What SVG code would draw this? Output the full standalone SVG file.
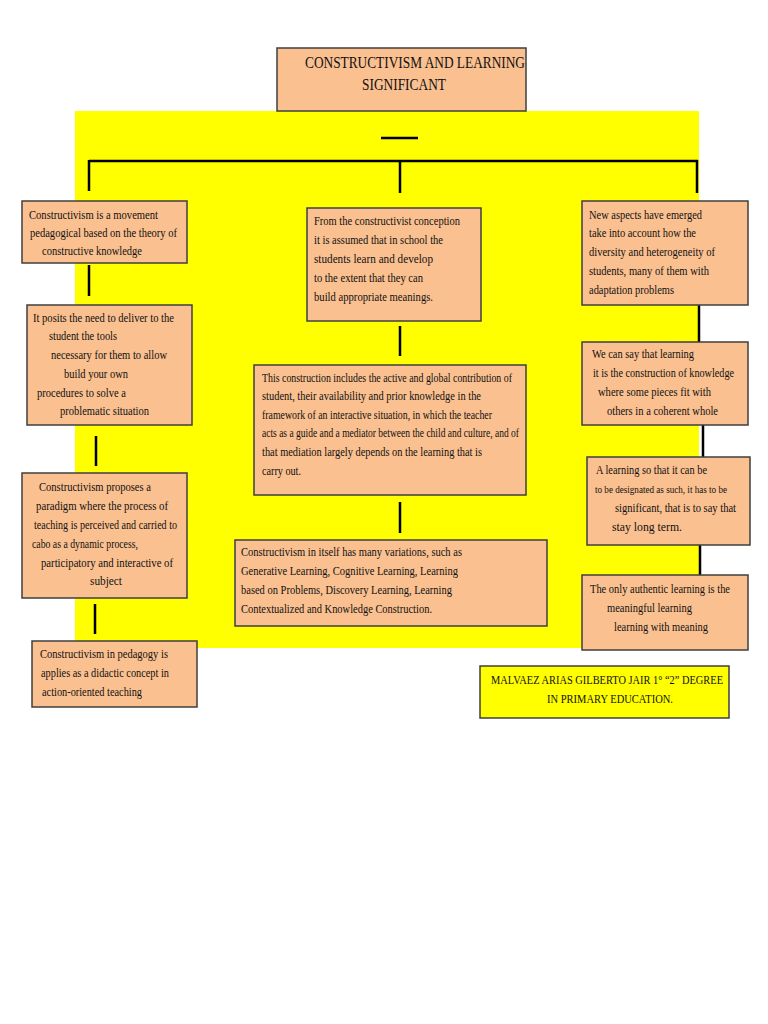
<svg xmlns="http://www.w3.org/2000/svg" width="768" height="1024" viewBox="0 0 768 1024">
<style>
.box{fill:#FAC090;stroke:#3f3f3f;stroke-width:1.5}
.ybox{fill:#FFFF00;stroke:#3f3f3f;stroke-width:1.5}
.t{font-family:"Liberation Serif","Times New Roman",serif;font-size:12.5px;fill:#111}
.s{font-size:11px}
.h{font-family:"Liberation Serif","Times New Roman",serif;font-size:16px;fill:#111}
.c{stroke:#000;stroke-width:2.5;fill:none}
</style>
<rect width="768" height="1024" fill="#fff"/>
<rect id="background" x="75" y="111" width="624" height="537" fill="#FFFF00"/>
<g id="title">
<rect class="box" x="277" y="48" width="249" height="63"/>
<text class="h" x="305" y="68" textLength="220" lengthAdjust="spacingAndGlyphs">CONSTRUCTIVISM AND LEARNING</text>
<text class="h" x="362" y="90" textLength="84" lengthAdjust="spacingAndGlyphs">SIGNIFICANT</text>
</g>
<g id="connectors">
<line class="c" x1="381" y1="138" x2="418" y2="138" stroke-width="3"/>
<line class="c" x1="89" y1="161" x2="698" y2="161"/>
<line class="c" x1="89" y1="160" x2="89" y2="191"/>
<line class="c" x1="400" y1="160" x2="400" y2="193"/>
<line class="c" x1="697" y1="160" x2="697" y2="193"/>
<line class="c" x1="89" y1="265" x2="89" y2="296"/>
<line class="c" x1="96" y1="436" x2="96" y2="466"/>
<line class="c" x1="95" y1="604" x2="95" y2="634"/>
<line class="c" x1="400" y1="326" x2="400" y2="356"/>
<line class="c" x1="400" y1="502" x2="400" y2="533"/>
<line class="c" x1="699" y1="305" x2="699" y2="342"/>
<line class="c" x1="703" y1="425" x2="703" y2="457"/>
<line class="c" x1="700" y1="545" x2="700" y2="575"/>
</g>
<g id="left1">
<rect class="box" x="22" y="201" width="165" height="62"/>
<text class="t" x="29" y="219" textLength="129" lengthAdjust="spacingAndGlyphs">Constructivism is a movement</text>
<text class="t" x="30" y="237" textLength="147" lengthAdjust="spacingAndGlyphs">pedagogical based on the theory of</text>
<text class="t" x="42" y="255" textLength="100" lengthAdjust="spacingAndGlyphs">constructive knowledge</text>
</g>
<g id="left2">
<rect class="box" x="27" y="305" width="165" height="120"/>
<text class="t" x="33" y="322" textLength="141" lengthAdjust="spacingAndGlyphs">It posits the need to deliver to the</text>
<text class="t" x="49" y="340" textLength="68" lengthAdjust="spacingAndGlyphs">student the tools</text>
<text class="t" x="51" y="359" textLength="116" lengthAdjust="spacingAndGlyphs">necessary for them to allow</text>
<text class="t" x="64" y="378" textLength="64" lengthAdjust="spacingAndGlyphs">build your own</text>
<text class="t" x="37" y="397" textLength="89" lengthAdjust="spacingAndGlyphs">procedures to solve a</text>
<text class="t" x="60" y="415" textLength="89" lengthAdjust="spacingAndGlyphs">problematic situation</text>
</g>
<g id="left3">
<rect class="box" x="22" y="473" width="165" height="125"/>
<text class="t" x="39" y="491" textLength="112" lengthAdjust="spacingAndGlyphs">Constructivism proposes a</text>
<text class="t" x="36" y="510" textLength="132" lengthAdjust="spacingAndGlyphs">paradigm where the process of</text>
<text class="t" x="34" y="529" textLength="143" lengthAdjust="spacingAndGlyphs">teaching is perceived and carried to</text>
<text class="t" x="32" y="548" textLength="106" lengthAdjust="spacingAndGlyphs">cabo as a dynamic process,</text>
<text class="t" x="41" y="567" textLength="132" lengthAdjust="spacingAndGlyphs">participatory and interactive of</text>
<text class="t" x="90" y="585" textLength="32" lengthAdjust="spacingAndGlyphs">subject</text>
</g>
<g id="left4">
<rect class="box" x="32" y="641" width="165" height="66"/>
<text class="t" x="40" y="658" textLength="128" lengthAdjust="spacingAndGlyphs">Constructivism in pedagogy is</text>
<text class="t" x="41" y="677" textLength="128" lengthAdjust="spacingAndGlyphs">applies as a didactic concept in</text>
<text class="t" x="42" y="696" textLength="100" lengthAdjust="spacingAndGlyphs">action-oriented teaching</text>
</g>
<g id="center1">
<rect class="box" x="307" y="208" width="174" height="113"/>
<text class="t" x="314" y="225" textLength="146" lengthAdjust="spacingAndGlyphs">From the constructivist conception</text>
<text class="t" x="314" y="244" textLength="129" lengthAdjust="spacingAndGlyphs">it is assumed that in school the</text>
<text class="t" x="314" y="263" textLength="119" lengthAdjust="spacingAndGlyphs">students  learn  and  develop</text>
<text class="t" x="314" y="282" textLength="109" lengthAdjust="spacingAndGlyphs">to the extent that they can</text>
<text class="t" x="314" y="301" textLength="119" lengthAdjust="spacingAndGlyphs">build appropriate meanings.</text>
</g>
<g id="center2">
<rect class="box" x="254" y="365" width="272" height="130"/>
<text class="t" x="262" y="382" textLength="250" lengthAdjust="spacingAndGlyphs">This construction includes the active and global contribution of</text>
<text class="t" x="262" y="400" textLength="219" lengthAdjust="spacingAndGlyphs">student, their availability and prior knowledge in the</text>
<text class="t" x="262" y="419" textLength="230" lengthAdjust="spacingAndGlyphs">framework of an interactive situation, in which the teacher</text>
<text class="t" x="262" y="437" textLength="257" lengthAdjust="spacingAndGlyphs">acts as a guide and a mediator between the child and culture, and of</text>
<text class="t" x="262" y="456" textLength="220" lengthAdjust="spacingAndGlyphs">that mediation largely depends on the learning that is</text>
<text class="t" x="262" y="475" textLength="39" lengthAdjust="spacingAndGlyphs">carry out.</text>
</g>
<g id="center3">
<rect class="box" x="235" y="540" width="312" height="86"/>
<text class="t" x="241" y="556" textLength="221" lengthAdjust="spacingAndGlyphs">Constructivism in itself has many variations, such as</text>
<text class="t" x="241" y="575" textLength="217" lengthAdjust="spacingAndGlyphs">Generative Learning, Cognitive Learning, Learning</text>
<text class="t" x="241" y="594" textLength="211" lengthAdjust="spacingAndGlyphs">based on Problems, Discovery Learning, Learning</text>
<text class="t" x="241" y="613" textLength="191" lengthAdjust="spacingAndGlyphs">Contextualized and Knowledge Construction.</text>
</g>
<g id="right1">
<rect class="box" x="582" y="201" width="166" height="104"/>
<text class="t" x="589" y="219" textLength="113" lengthAdjust="spacingAndGlyphs">New aspects have emerged</text>
<text class="t" x="589" y="237" textLength="107" lengthAdjust="spacingAndGlyphs">take into account how the</text>
<text class="t" x="589" y="256" textLength="126" lengthAdjust="spacingAndGlyphs">diversity and heterogeneity of</text>
<text class="t" x="589" y="275" textLength="120" lengthAdjust="spacingAndGlyphs">students, many of them with</text>
<text class="t" x="589" y="294" textLength="85" lengthAdjust="spacingAndGlyphs">adaptation problems</text>
</g>
<g id="right2">
<rect class="box" x="582" y="342" width="166" height="83"/>
<text class="t" x="592" y="358" textLength="102" lengthAdjust="spacingAndGlyphs">We can say that learning</text>
<text class="t" x="593" y="377" textLength="141" lengthAdjust="spacingAndGlyphs">it is the construction of knowledge</text>
<text class="t" x="598" y="396" textLength="113" lengthAdjust="spacingAndGlyphs">where some pieces fit with</text>
<text class="t" x="607" y="415" textLength="111" lengthAdjust="spacingAndGlyphs">others in a coherent whole</text>
</g>
<g id="right3">
<rect class="box" x="587" y="457" width="163" height="88"/>
<text class="t" x="596" y="474" textLength="111" lengthAdjust="spacingAndGlyphs">A learning so that it can be</text>
<text class="t s" x="595" y="493" textLength="132" lengthAdjust="spacingAndGlyphs">to be designated as such, it has to be</text>
<text class="t" x="615" y="512" textLength="121" lengthAdjust="spacingAndGlyphs">significant, that is to say that</text>
<text class="t" x="612" y="531" textLength="70" lengthAdjust="spacingAndGlyphs">stay long term.</text>
</g>
<g id="right4">
<rect class="box" x="582" y="575" width="166" height="75"/>
<text class="t" x="590" y="593" textLength="140" lengthAdjust="spacingAndGlyphs">The only authentic learning is the</text>
<text class="t" x="607" y="612" textLength="85" lengthAdjust="spacingAndGlyphs">meaningful learning</text>
<text class="t" x="614" y="631" textLength="94" lengthAdjust="spacingAndGlyphs">learning with meaning</text>
</g>
<g id="author">
<rect class="ybox" x="480" y="666" width="249" height="52"/>
<text class="t" x="491" y="684" textLength="232" lengthAdjust="spacingAndGlyphs">MALVAEZ ARIAS GILBERTO JAIR 1° “2” DEGREE</text>
<text class="t" x="547" y="703" textLength="126" lengthAdjust="spacingAndGlyphs">IN PRIMARY EDUCATION.</text>
</g>
</svg>
